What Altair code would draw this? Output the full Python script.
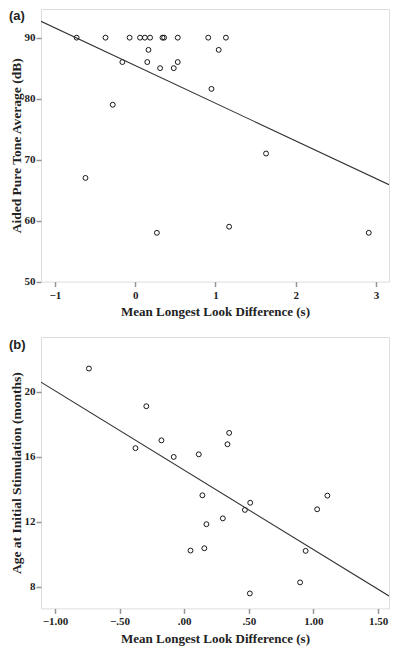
import altair as alt
import pandas as pd

# Panel (a)
a_x = [-0.73, -0.62, -0.37, -0.28, -0.16, -0.07, 0.06, 0.12, 0.185, 0.165, 0.15, 0.27,
       0.31, 0.34, 0.36, 0.48, 0.53, 0.53, 0.91, 0.95, 1.04, 1.13, 1.17, 1.63, 2.91]
a_y = [90, 67, 90, 79, 86, 90, 90, 90, 90, 88, 86, 58,
       85, 90, 90, 85, 90, 86, 90, 81.6, 88, 90, 59, 71, 58]

# Panel (b)
b_x = [-0.737, -0.377, -0.293, -0.176, -0.081, 0.113, 0.335, 0.348, 0.141, 0.172,
       0.156, 0.049, 0.299, 0.47, 0.511, 0.508, 0.897, 0.94, 1.029, 1.108]
b_y = [21.42, 16.52, 19.1, 17.0, 15.98, 16.14, 16.76, 17.46, 13.62, 11.84,
       10.36, 10.22, 12.2, 12.72, 13.16, 7.58, 8.26, 10.2, 12.76, 13.6]

a_xticks = [-1, 0, 1, 2, 3]
a_yticks = [50, 60, 70, 80, 90]
b_xticks = [-1.0, -0.5, 0.0, 0.5, 1.0, 1.5]
b_yticks = [8, 10, 12, 14, 16, 18, 20, 22]

a_xdom = [-1.174, 3.162]
a_ydom = [50, 94.7]
b_xdom = [-1.108, 1.585]
b_ydom = [6.66, 23.36]

x_title = "Mean Longest Look Difference (s)"
a_ytitle = "Aided Pure Tone Average (dB)"
b_ytitle = "Age at Initial Stimulation (months)"

SERIF = "Liberation Serif"
GREY = "#959595"
W = 348


def panel(xs, ys, xdom, ydom, xticks, yticks, ytitle, tag, h, xlabel_expr=None):
    df = pd.DataFrame({"x": xs, "y": ys})
    base = alt.Chart(df)
    xaxis_kwargs = dict(values=xticks, title=x_title, grid=False, domain=False,
                        tickColor=GREY, tickWidth=1.5, tickSize=5,
                        labelFont=SERIF, labelFontWeight="bold", labelFontSize=11,
                        labelColor="#222", labelPadding=2.5,
                        titleFont=SERIF, titleFontWeight="bold", titleFontSize=13,
                        titleColor="#222", titlePadding=5.5)
    if xlabel_expr:
        xaxis_kwargs["labelExpr"] = xlabel_expr
    else:
        xaxis_kwargs["format"] = "d"
    xenc = alt.X("x:Q", scale=alt.Scale(domain=xdom, nice=False, zero=False),
                 axis=alt.Axis(**xaxis_kwargs))
    yenc = alt.Y("y:Q", scale=alt.Scale(domain=ydom, nice=False, zero=False),
                 axis=alt.Axis(values=yticks, title=ytitle, grid=False, domain=False,
                               tickColor=GREY, tickWidth=1.5, tickSize=5,
                               labelFont=SERIF, labelFontWeight="bold", labelFontSize=11,
                               labelColor="#222", labelPadding=1,
                               titleFont=SERIF, titleFontWeight="bold", titleFontSize=13.5,
                               titleColor="#222", titlePadding=1))
    pts = base.mark_point(shape="circle", filled=False, color="black", size=24,
                          strokeWidth=0.9, opacity=1).encode(x=xenc, y=yenc)
    line = base.transform_regression("x", "y", extent=xdom).mark_line(
        color="#333", strokeWidth=1.1, clip=True).encode(x="x:Q", y="y:Q")
    lab = alt.Chart(alt.Data(values=[{"t": tag}])).mark_text(
        font="Liberation Sans", fontWeight="bold", fontSize=13, align="left",
        baseline="top", color="#222").encode(
        text="t:N", x=alt.value(-32), y=alt.value(1 if tag == "(a)" else 2))
    return alt.layer(pts, line, lab).properties(width=W, height=h)


b_expr = ("(datum.value < 0 ? '\u2212' : '') + (abs(datum.value) >= 1 ? "
          "format(abs(datum.value), '.2f') : replace(format(abs(datum.value), '.2f'), '0.', '.'))")

pa = panel(a_x, a_y, a_xdom, a_ydom, a_xticks, a_yticks, a_ytitle, "(a)", 272.6)
pb = panel(b_x, b_y, b_xdom, b_ydom, b_xticks, b_yticks, b_ytitle, "(b)", 271.4, b_expr)

chart = alt.vconcat(pa, pb, spacing=16).properties(padding=0).configure_view(
    stroke=GREY, strokeWidth=2).configure(background="white")

chart.save("out.html", embed_options={"renderer": "svg", "actions": False})
